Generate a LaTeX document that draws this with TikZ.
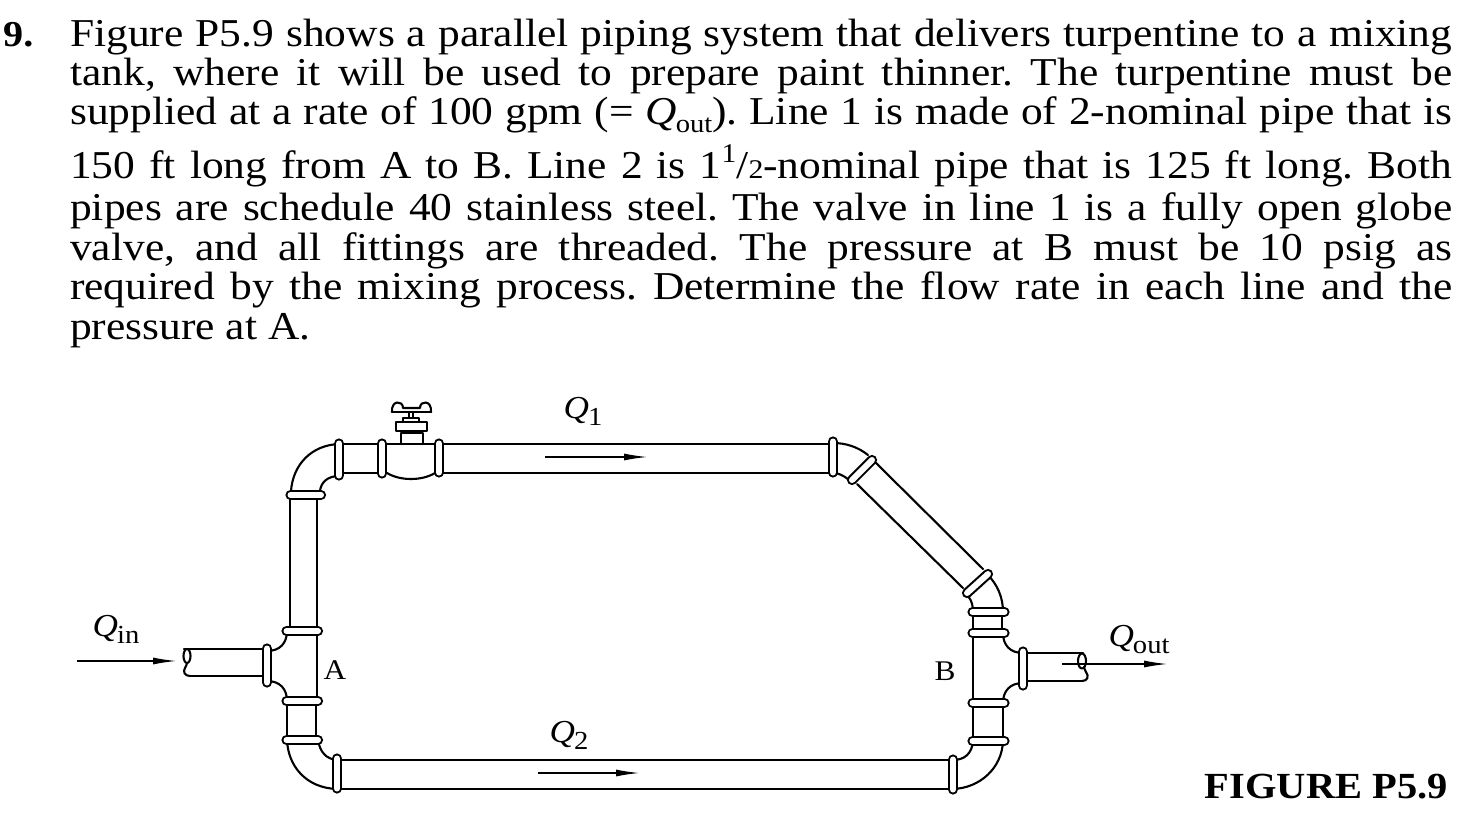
\documentclass[tikz,border=0pt]{standalone}
\usepackage{fontspec}
\setmainfont{Liberation Serif}[FakeStretch=1.10]
\usetikzlibrary{arrows.meta}
\newcommand{\Qsub}[1]{\textit{Q}\kern-1pt\raisebox{-0.22em}{\fontsize{26}{26}\selectfont #1}}
\newcommand{\flange}[2]{%
  \draw[line width=10.2pt,line cap=round,black] #1 -- #2;
  \draw[line width=6pt,line cap=round,white] #1 -- #2;}
\tikzset{
  pipe/.style={line width=2.1pt,line cap=round,line join=round},
  flow/.style={line width=1.6pt,-{Latex[length=24pt,width=7pt]}},
  para/.style={inner sep=0pt,anchor=base west,font=\fontsize{39.5}{41}\selectfont\frenchspacing},
  lab/.style={inner sep=0pt,font=\fontsize{32}{34}\selectfont},
  letter/.style={inner sep=0pt,font=\fontsize{28.5}{31}\selectfont}
}
\begin{document}
\begin{tikzpicture}[x=1pt,y=-1pt]
\path[use as bounding box] (0,0) rectangle (1470,814);
% text
\node[para,font=\fontsize{36.5}{39}\selectfont\bfseries] (num) at (3,46) {9.};
\node[para] (l1) at (70,46) {\hbox to 1382pt{Figure P5.9 shows a parallel piping system that delivers turpentine to a mixing}};
\node[para] (l2) at (70,85) {\hbox to 1382pt{tank, where it will be used to prepare paint thinner. The turpentine must be}};
\node[para] (l3) at (70,124) {\hbox to 1382pt{supplied at a rate of 100 gpm (= \Qsub{out}). Line 1 is made of 2-nominal pipe that is}};
\node[para] (l4) at (70,178) {\hbox to 1382pt{150 ft long from A to B. Line 2 is 1\raisebox{0.38em}{\fontsize{27}{27}\selectfont 1}/{\fontsize{27}{27}\selectfont 2}-nominal pipe that is 125 ft long. Both}};
\node[para] (l5) at (70,220) {\hbox to 1382pt{pipes are schedule 40 stainless steel. The valve in line 1 is a fully open globe}};
\node[para] (l6) at (70,260) {\hbox to 1382pt{valve, and all fittings are threaded. The pressure at B must be 10 psig as}};
\node[para] (l7) at (70,299) {\hbox to 1382pt{required by the mixing process. Determine the flow rate in each line and the}};
\node[para] (l8) at (70,339) {pressure at A.};
\node[para,font=\fontsize{36.8}{39}\selectfont\bfseries,anchor=base east] (cap) at (1448,798) {FIGURE P5.9};
% top pipe
\draw[pipe] (339,444) -- (833,444) (339,473) -- (387,473) (435,473) -- (833,473);
\draw[pipe] (387,473) .. controls (400,481) and (422,481) .. (435,473);
% valve
\draw[pipe] (401,444) -- (401,433) -- (423,433) -- (423,444);
\draw[pipe] (396,422) rectangle (427,431);
\draw[pipe] (403,422) -- (403,418) -- (419,418) -- (419,422);
\draw[pipe] (403,431) -- (403,433) (419,431) -- (419,433);
\draw[pipe] (409,418) -- (409,412) (413,418) -- (413,412);
\draw[pipe] (392,412) -- (431,412);
\draw[pipe] (392,412) .. controls (391,400) and (403,400) .. (403,408) -- (420,408) .. controls (420,400) and (432,400) .. (431,412);
% top-left elbow
\draw[pipe] (291,491) .. controls (293,464) and (312,445) .. (339,444);
\draw[pipe] (320,491) .. controls (321,482) and (328,476) .. (339,476);
% left vertical
\draw[pipe] (290,495) -- (290,631) (317,495) -- (317,701);
% tee A
\draw[pipe] (287,631) .. controls (287,643) and (280,651) .. (267,651);
\draw[pipe] (267,681) .. controls (280,681) and (287,689) .. (287,701);
% inlet
\draw[pipe] (267,649) -- (187,649) (267,676) -- (190,676);
\draw[pipe] (187,656) ellipse (3.5 and 7);
\draw[pipe] (184,649) -- (187,649);
\draw[pipe] (190,676) .. controls (184,676) and (183,671) .. (185,668) .. controls (187,666) and (186,664) .. (187,663);
% lower left
\draw[pipe] (287,701) -- (287,740) (316,701) -- (316,740);
\draw[pipe] (287,740) .. controls (288,766) and (306,788) .. (337,789);
\draw[pipe] (318,740) .. controls (320,752) and (326,759) .. (337,760);
% bottom pipe
\draw[pipe] (337,760) -- (953,760) (337,789) -- (953,789);
% lower right
\draw[pipe] (953,789) .. controls (980,788) and (1002,768) .. (1003,741);
\draw[pipe] (953,760) .. controls (964,760) and (972,754) .. (973,741);
\draw[pipe] (973,703) -- (973,741) (1003,703) -- (1003,741);
% tee B
\draw[pipe] (973,633) -- (973,703);
\draw[pipe] (1003,633) .. controls (1003,645) and (1010,653) .. (1023,653);
\draw[pipe] (1023,683) .. controls (1010,683) and (1003,691) .. (1003,703);
% outlet
\draw[pipe] (1023,653) -- (1082,653) (1023,681) -- (1082,681);
\draw[pipe] (1082,661) ellipse (4 and 7.5);
\draw[pipe] (1082,653) -- (1083,653);
\draw[pipe] (1082,681) .. controls (1088,681) and (1089,676) .. (1086,672) .. controls (1084,670) and (1085,668) .. (1084,667);
% upper right
\draw[pipe] (973,612) -- (973,633) (1002,612) -- (1002,633);
\draw[pipe] (987,574) .. controls (998,585) and (1003,598) .. (1003,612);
\draw[pipe] (968,596) .. controls (972,601) and (973,606) .. (973,612);
% diagonal
\draw[pipe] (873,460) -- (983,569) (857,484) -- (963,588);
\draw[pipe] (833,443) .. controls (846,443) and (858,447) .. (868,455);
\draw[pipe] (833,473) .. controls (838,473) and (843,475) .. (849,480);
% flanges
\flange{(339,443.5)}{(339,475.5)}
\flange{(382,443.5)}{(382,473.5)}
\flange{(439,443.5)}{(439,472.5)}
\flange{(290.5,495)}{(321,495)}
\flange{(286.5,631)}{(318,631)}
\flange{(286.5,701)}{(318,701)}
\flange{(286.5,740)}{(318,740)}
\flange{(267,648.5)}{(267,682.5)}
\flange{(337,758.5)}{(337,788.5)}
\flange{(953,759.5)}{(953,789.5)}
\flange{(972.5,741)}{(1004.5,741)}
\flange{(972.5,703)}{(1004.5,703)}
\flange{(972.5,633)}{(1004.5,633)}
\flange{(972.5,612)}{(1004.5,612)}
\flange{(1023,651.5)}{(1023,685.5)}
\flange{(833,441.5)}{(833,472.5)}
\flange{(852,480)}{(872,460)}
\flange{(967,593)}{(988,574)}
% flow arrows
\coordinate (ina) at (77,661); \coordinate (inb) at (177,661);
\coordinate (oa) at (1062,664); \coordinate (ob) at (1168,664);
\coordinate (q1a) at (545,457); \coordinate (q1b) at (648,457);
\coordinate (q2a) at (538,773); \coordinate (q2b) at (640,773);
\draw[flow] (ina) -- (inb);
\draw[flow] (oa) -- (ob);
\draw[flow] (q1a) -- (q1b);
\draw[flow] (q2a) -- (q2b);
% labels
\node[lab] (q1) at (583,411) {\Qsub{1}};
\node[lab] (q2) at (569,735) {\Qsub{2}};
\node[lab] (qin) at (116,629) {\Qsub{in}};
\node[lab] (qout) at (1139,640) {\Qsub{out}};
\node[letter] (A) at (335,670) {A};
\node[letter] (B) at (945,671) {B};
\end{tikzpicture}
\end{document}
